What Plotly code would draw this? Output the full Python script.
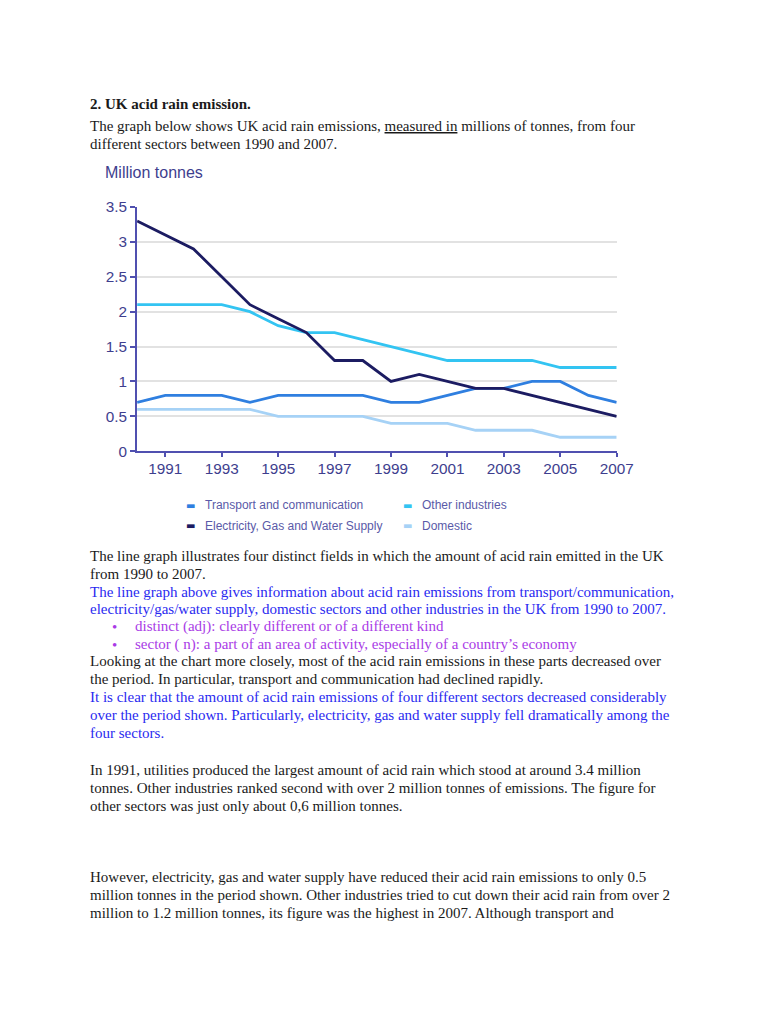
import plotly.graph_objects as go

years = list(range(1990, 2008))

transport = [0.7, 0.8, 0.8, 0.8, 0.7, 0.8, 0.8, 0.8, 0.8, 0.7, 0.7, 0.8, 0.9, 0.9, 1.0, 1.0, 0.8, 0.7]
electricity = [3.3, 3.1, 2.9, 2.5, 2.1, 1.9, 1.7, 1.3, 1.3, 1.0, 1.1, 1.0, 0.9, 0.9, 0.8, 0.7, 0.6, 0.5]
other_ind = [2.1, 2.1, 2.1, 2.1, 2.0, 1.8, 1.7, 1.7, 1.6, 1.5, 1.4, 1.3, 1.3, 1.3, 1.3, 1.2, 1.2, 1.2]
domestic = [0.6, 0.6, 0.6, 0.6, 0.6, 0.5, 0.5, 0.5, 0.5, 0.4, 0.4, 0.4, 0.3, 0.3, 0.3, 0.2, 0.2, 0.2]

series_names = ["Transport and communication", "Electricity, Gas and Water Supply",
                "Other industries", "Domestic"]
series_colors = ["#2f7fe0", "#1c1c62", "#33c4f2", "#a6d2f6"]

W, H = 752, 1000
# screen -> figure pixel correction (page margin + capture scaling)
SX, BX = 0.9766, 7.5
SY, BY = 0.9864, 15.3
PAD = 3  # annotation inner padding, left-anchored text
AXIS_COL = "#5050b0"
TEXT_COL = "#3e3e8e"

fig = go.Figure()

# draw order: domestic, transport, other, electricity on top
for vals, i in [(domestic, 3), (transport, 0), (other_ind, 2), (electricity, 1)]:
    fig.add_trace(go.Scatter(x=years, y=vals, mode="lines", name=series_names[i],
                             line=dict(color=series_colors[i], width=2.8),
                             showlegend=False))

def px(x):
    return ((x - BX) / SX) / W

def py(y):
    return 1 - ((y - BY) / SY) / H

annotations = []

# page text, one entry per line
BLACK = "#1a1a1a"
BLUE = "#2a2af0"
PURPLE = "#a93be6"
FS = 15
page_lines = [
    (103, "<b>2. UK acid rain emission.</b>", BLACK),
    (125, "The graph below shows UK acid rain emissions, <u>measured in</u> millions of tonnes, from four", BLACK),
    (143, "different sectors between 1990 and 2007.", BLACK),
    (556, "The line graph illustrates four distinct fields in which the amount of acid rain emitted in the UK", BLACK),
    (574, "from 1990 to 2007.", BLACK),
    (592, "The line graph above gives information about acid rain emissions from transport/communication,", BLUE),
    (609, "electricity/gas/water supply, domestic sectors and other industries in the UK from 1990 to 2007.", BLUE),
    (662, "Looking at the chart more closely, most of the acid rain emissions in these parts decreased over", BLACK),
    (680, "the period. In particular, transport and communication had declined rapidly.", BLACK),
    (698, "It is clear that the amount of acid rain emissions of four different sectors decreased considerably", BLUE),
    (716, "over the period shown. Particularly, electricity, gas and water supply fell dramatically among the", BLUE),
    (734, "four sectors.", BLUE),
    (771, "In 1991, utilities produced the largest amount of acid rain which stood at around 3.4 million", BLACK),
    (789, "tonnes. Other industries ranked second with over 2 million tonnes of emissions. The figure for", BLACK),
    (807, "other sectors was just only about 0,6 million tonnes.", BLACK),
    (878, "However, electricity, gas and water supply have reduced their acid rain emissions to only 0.5", BLACK),
    (896, "million tonnes in the period shown. Other industries tried to cut down their acid rain from over 2", BLACK),
    (914, "million to 1.2 million tonnes, its figure was the highest in 2007. Although transport and", BLACK),
]
for y, t, c in page_lines:
    annotations.append(dict(x=px(90 - PAD), y=py(y), xref="paper", yref="paper", text=t,
                            showarrow=False, xanchor="left", yanchor="middle",
                            font=dict(family="Liberation Serif", size=FS, color=c)))

bullets = [
    (627, "distinct (adj): clearly different or of a different kind"),
    (645, "sector ( n): a part of an area of activity, especially of a country\u2019s economy"),
]
for y, t in bullets:
    annotations.append(dict(x=px(117 - PAD), y=py(y), xref="paper", yref="paper", text="\u2022",
                            showarrow=False, xanchor="center", yanchor="middle",
                            font=dict(family="Liberation Serif", size=FS, color=PURPLE)))
    annotations.append(dict(x=px(135 - PAD), y=py(y), xref="paper", yref="paper", text=t,
                            showarrow=False, xanchor="left", yanchor="middle",
                            font=dict(family="Liberation Serif", size=FS, color=PURPLE)))

# chart title
annotations.append(dict(x=px(105 - PAD), y=py(171), xref="paper", yref="paper", text="Million tonnes",
                        showarrow=False, xanchor="left", yanchor="middle",
                        font=dict(family="Liberation Sans", size=16, color=TEXT_COL)))

# legend (two columns)
legend_pos = [(190, 505), (190, 526), (407, 505), (407, 526)]
for (lx, ly), name, col in zip(legend_pos, series_names, series_colors):
    annotations.append(dict(x=px(lx), y=py(ly), xref="paper", yref="paper", text="\u25ac",
                            showarrow=False, xanchor="center", yanchor="middle",
                            font=dict(family="DejaVu Sans", size=10, color=col)))
    annotations.append(dict(x=px(lx + 15 - PAD), y=py(ly), xref="paper", yref="paper", text=name,
                            showarrow=False, xanchor="left", yanchor="middle",
                            font=dict(family="Liberation Sans", size=12, color="#5a5aa8")))

fig.update_layout(
    width=W, height=H,
    margin=dict(l=0, r=0, t=0, b=0),
    paper_bgcolor="white", plot_bgcolor="white",
    annotations=annotations,
    showlegend=False,
    xaxis=dict(
        domain=[px(136.5), px(615.7)],
        anchor="y",
        range=[1990, 2007],
        tickmode="array",
        tickvals=[1991, 1993, 1995, 1997, 1999, 2001, 2003, 2005, 2007],
        ticks="outside", ticklen=4, tickwidth=1.5, tickcolor=AXIS_COL,
        ticklabelstandoff=-2,
        showgrid=False, zeroline=False,
        showline=True, linecolor=AXIS_COL, linewidth=2,
        tickfont=dict(family="Liberation Sans", size=15.3, color=TEXT_COL),
    ),
    yaxis=dict(
        domain=[py(451), py(206)],
        anchor="x",
        range=[0, 3.5],
        tickmode="array",
        tickvals=[0, 0.5, 1, 1.5, 2, 2.5, 3, 3.5],
        ticktext=["0", "0.5", "1", "1.5", "2", "2.5", "3", "3.5"],
        ticks="outside", ticklen=5, tickwidth=1.5, tickcolor=AXIS_COL,
        showgrid=True, gridcolor="#e2e2e2", gridwidth=1.8,
        zeroline=False,
        showline=True, linecolor=AXIS_COL, linewidth=2,
        tickfont=dict(family="Liberation Sans", size=15.3, color=TEXT_COL),
    ),
)

fig.write_html("out.html")
